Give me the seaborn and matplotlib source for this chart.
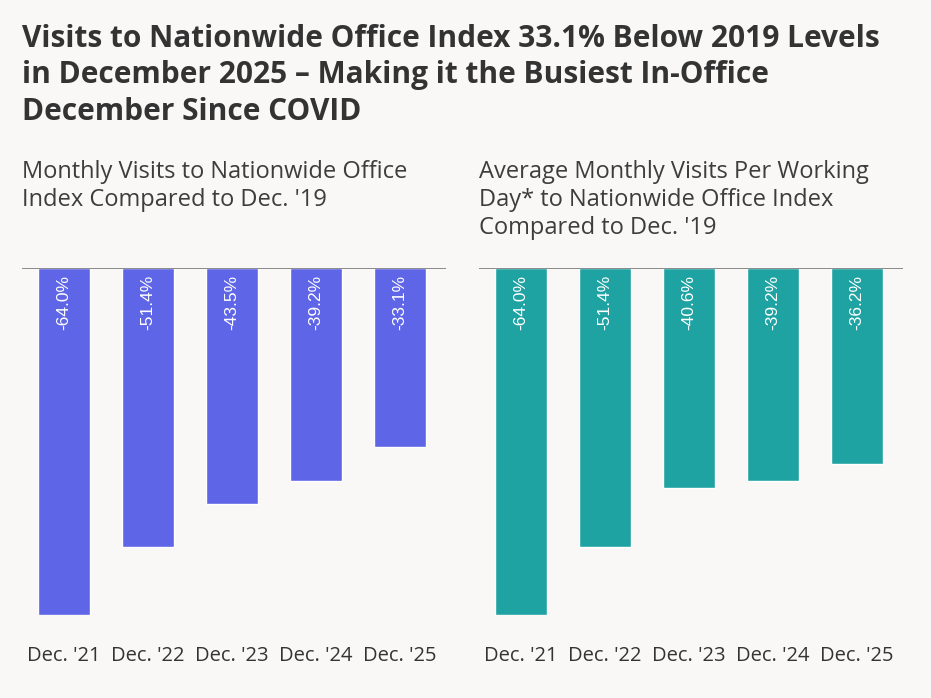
import matplotlib
matplotlib.use("Agg")
import matplotlib.pyplot as plt
import seaborn as sns

# data
years = ["Dec. '21", "Dec. '22", "Dec. '23", "Dec. '24", "Dec. '25"]
monthly_visits = [-64.0, -51.4, -43.5, -39.2, -33.1]
per_working_day = [-64.0, -51.4, -40.6, -39.2, -36.2]

title = ("Visits to Nationwide Office Index 33.1% Below 2019 Levels\n"
         "in December 2025 – Making it the Busiest In-Office\n"
         "December Since COVID")
sub_left = "Monthly Visits to Nationwide Office\nIndex Compared to Dec. '19"
sub_right = ("Average Monthly Visits Per Working\n"
             "Day* to Nationwide Office Index\nCompared to Dec. '19")

bg = "#f9f8f7"
sns.set_style("white")
plt.rcParams['font.family'] = ['Open Sans', 'DejaVu Sans']

W, H = 931, 698
fig = plt.figure(figsize=(W / 100, H / 100), dpi=100, facecolor=bg)

def px_axes(x0, y_top, w, y_bot):
    return fig.add_axes([x0 / W, 1 - y_bot / H, w / W, (y_bot - y_top) / H])

panels = [
    (22, monthly_visits, "#5e65e6", sub_left),
    (479, per_working_day, "#1fa3a2", sub_right),
]

for x0, vals, color, sub in panels:
    ax = px_axes(x0, 268, 424, 615)
    ax.set_facecolor(bg)
    sns.barplot(x=years, y=vals, color=color, saturation=1, width=0.62, ax=ax)
    ax.set_ylim(-64, 0)
    ax.set_xlim(-0.5, 4.55)
    ax.axhline(0, color="#777777", lw=1.2, zorder=5)
    for s in ax.spines.values():
        s.set_visible(False)
    ax.set_yticks([])
    ax.set_xlabel("")
    ax.set_ylabel("")
    ax.tick_params(axis="x", length=0, pad=22, labelsize=14.5, labelcolor="#333333")
    for i, v in enumerate(vals):
        ax.text(i, -1.2, f"{v:.1f}%", rotation=90, ha="center", va="top",
                color="white", fontsize=12.5, family=["Liberation Sans", "DejaVu Sans"])
    fig.text(x0 / W, 1 - 160 / H, sub, ha="left", va="top", fontsize=17,
             color="#3d3d3d", linespacing=1.22)

fig.text(22 / W, 1 - 24 / H, title, ha="left", va="top", fontsize=21.5,
         fontweight="bold", color="#333333", linespacing=1.28)

fig.savefig("out.png", dpi=100, facecolor=bg)
